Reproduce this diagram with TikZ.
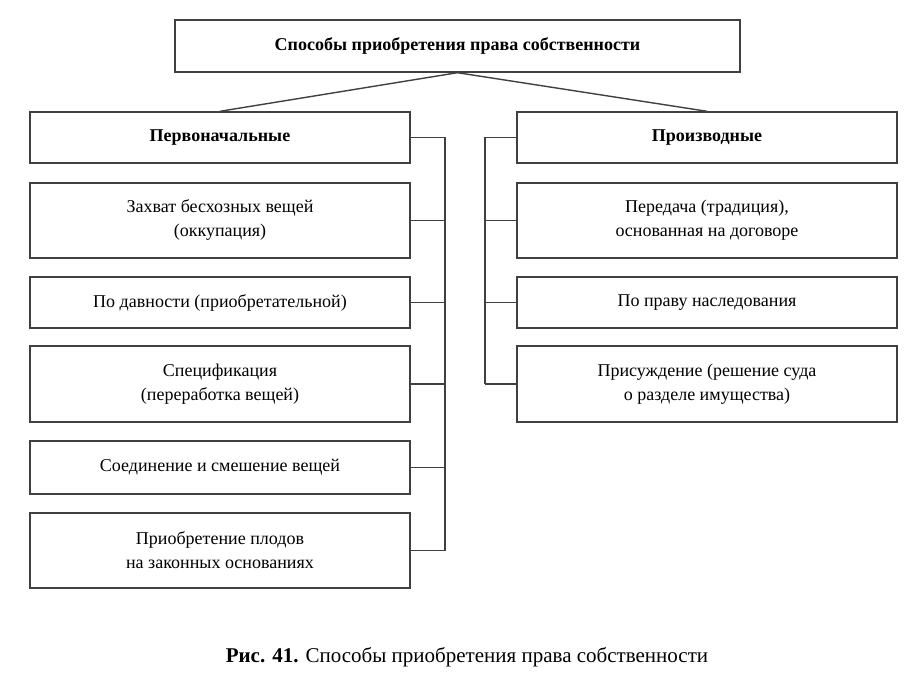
\documentclass[tikz,border=0pt]{standalone}
\usepackage{fontspec}
\setmainfont{Liberation Serif}
\begin{document}
\begin{tikzpicture}[x=1pt,y=-1pt,
  bx/.style={draw=black!75,line width=1.4pt,fill=white,align=center,inner sep=0pt,font=\fontsize{18}{24}\selectfont},
  ln/.style={draw=black!75,line width=1.4pt}]
\useasboundingbox (0,0) rectangle (918,684);
\newcommand{\bxat}[6]{\node[bx,minimum width=#3-#1,minimum height=#4-#2] (#5) at ({(#1+#3)/2},{(#2+#4)/2}) {#6};}
\bxat{175}{20}{740}{72}{top}{\textbf{Способы приобретения права собственности}}
\bxat{30}{112}{410}{163}{L}{\textbf{Первоначальные}}
\bxat{30}{183}{410}{258}{L1}{Захват бесхозных вещей\\(оккупация)}
\bxat{30}{277}{410}{328}{L2}{По давности (приобретательной)}
\bxat{30}{346}{410}{422}{L3}{Спецификация\\(переработка вещей)}
\bxat{30}{441}{410}{494}{L4}{Соединение и смешение вещей}
\bxat{30}{513}{410}{588}{L5}{Приобретение плодов\\на законных основаниях}
\bxat{517}{112}{897}{163}{R}{\textbf{Производные}}
\bxat{517}{183}{897}{258}{R1}{Передача (традиция),\\основанная на договоре}
\bxat{517}{277}{897}{328}{R2}{По праву наследования}
\bxat{517}{346}{897}{422}{R3}{Присуждение (решение суда\\о разделе имущества)}
\draw[ln] (top.south) -- (L.north);
\draw[ln] (top.south) -- (R.north);
\coordinate (lt) at (445,137.5); \coordinate (lb) at (445,550.5);
\coordinate (rt) at (485,137.5); \coordinate (rb) at (485,384);
\draw[ln] (lt) -- (lb);
\draw[ln] (rt) -- (rb);
\foreach \n in {L,L1,L2,L3,L4,L5} \draw[ln] (\n.east) -- (\n.east -| lt);
\foreach \n in {R,R1,R2,R3} \draw[ln] (\n.west) -- (\n.west -| rt);
\node (cap) at (467,657) {\fontsize{21}{24}\selectfont\textbf{Рис. 41.} Способы приобретения права собственности};
\end{tikzpicture}
\end{document}
